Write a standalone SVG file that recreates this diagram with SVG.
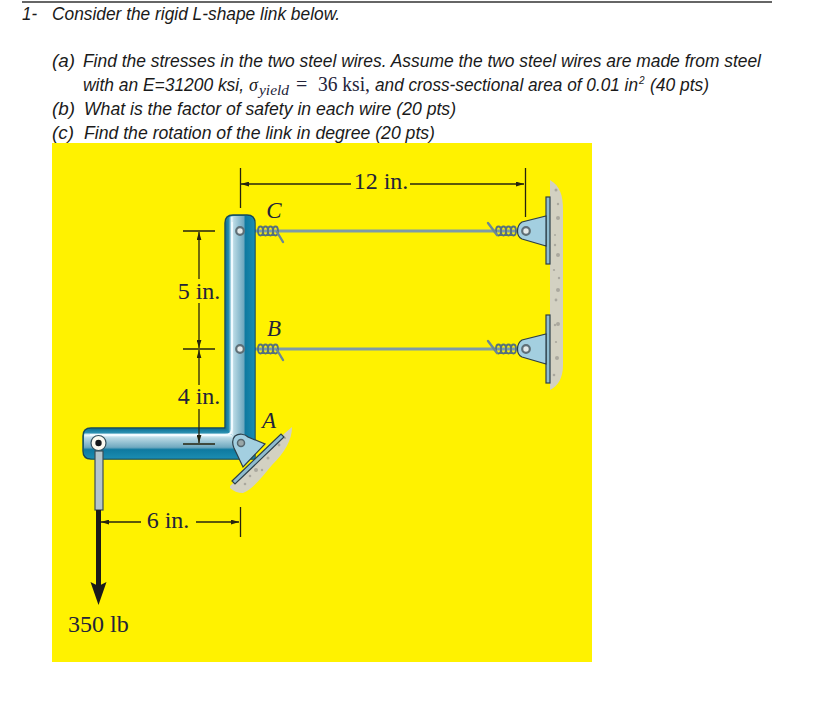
<svg xmlns="http://www.w3.org/2000/svg" width="815" height="716" viewBox="0 0 815 716">
<style>
.q{font-family:"Liberation Sans",Arial,sans-serif;font-style:italic;font-size:18px;fill:#1a1a1a}
.s{font-family:"Liberation Serif","Times New Roman",serif;fill:#23233a}
.dim{font-size:24px;text-anchor:middle}
.pt{font-size:23px;font-style:italic;text-anchor:middle}
.d{stroke:#26240f;stroke-width:1.3;fill:none}
.wire{stroke:#7f9ba6;stroke-width:3;fill:none}
.coil{fill:none;stroke:#55707c;stroke-width:1.800}
.tail{fill:none;stroke:#6b8794;stroke-width:2.400;stroke-linecap:round}
.gus{fill:#a3cfe0;stroke:#2c3e48;stroke-width:1.200}
.plate{fill:#8fbccf;stroke:#2c3e48;stroke-width:1.200}
.conc{fill:#d3d1c2}
.sp{fill:#aaa89e}
.pin{fill:#e4e9e8;stroke:#5f6f76;stroke-width:2.200}
</style>
<defs>
<marker id="ah" viewBox="0 0 10 6" refX="10" refY="3" markerWidth="8" markerHeight="5" markerUnits="userSpaceOnUse" orient="auto-start-reverse"><path d="M0 0L10 3L0 6Z" fill="#26240f"/></marker>
<linearGradient id="gv" x1="0" x2="1" y1="0" y2="0">
<stop offset="0" stop-color="#0f7396"/><stop offset=".1" stop-color="#2a8fb0"/><stop offset=".2" stop-color="#f2fbff"/><stop offset=".27" stop-color="#b9d9e4"/><stop offset=".62" stop-color="#6fa9c0"/><stop offset=".68" stop-color="#0f7aa0"/><stop offset="1" stop-color="#1b8cb1"/>
</linearGradient>
<linearGradient id="gh" x1="0" x2="0" y1="0" y2="1">
<stop offset="0" stop-color="#0f7396"/><stop offset=".12" stop-color="#2a8fb0"/><stop offset=".2" stop-color="#f2fbff"/><stop offset=".3" stop-color="#b9d9e4"/><stop offset=".62" stop-color="#6fa9c0"/><stop offset=".7" stop-color="#0f7aa0"/><stop offset="1" stop-color="#1b8cb1"/>
</linearGradient>
<path id="coils" class="coil" d="M22 0c0-6 5-6 5 0s-5 6-5 0M27 0c0-6 5-6 5 0s-5 6-5 0M32 0c0-6 5-6 5 0s-5 6-5 0M37 0c0-6 5-6 5 0s-5 6-5 0"/>
<g id="anchor">
<path class="gus" d="M546 -15V15L522 8C516 5 516 -5 522 -9Z"/>
<circle cx="526" cy="0" r="3.800" class="pin"/>
</g>
</defs>
<rect width="815" height="716" fill="#fff"/>
<rect x="22" y="1" width="750" height="2" fill="#666"/>
<rect x="52" y="143" width="540" height="519" fill="#fff200"/>
<g id="question">
<text class="q" x="22" y="20" textLength="15" lengthAdjust="spacingAndGlyphs">1-</text>
<text class="q" x="52" y="20" textLength="288" lengthAdjust="spacingAndGlyphs">Consider the rigid L-shape link below.</text>
<text class="q" x="52" y="67" textLength="23" lengthAdjust="spacingAndGlyphs">(a)</text>
<text class="q" x="83" y="67" textLength="678" lengthAdjust="spacingAndGlyphs">Find the stresses in the two steel wires. Assume the two steel wires are made from steel</text>
<text class="q" x="83" y="91" textLength="161" lengthAdjust="spacingAndGlyphs">with an E=31200 ksi,</text>
<text class="q" y="91"><tspan x="249" class="s" style="font-size:18px;fill:#1a1a1a">σ</tspan><tspan x="259" dy="4" class="s" style="font-size:14px" textLength="30" lengthAdjust="spacingAndGlyphs">yield</tspan></text>
<text class="s" x="296" y="91" font-size="20">=</text>
<text class="s" x="318" y="91" font-size="20" textLength="52" lengthAdjust="spacingAndGlyphs">36 ksi,</text>
<text class="q" y="91"><tspan x="375" textLength="263" lengthAdjust="spacingAndGlyphs">and cross-sectional area of 0.01 in</tspan><tspan x="639" dy="-7" style="font-size:10px">2</tspan><tspan x="650" dy="7" textLength="59" lengthAdjust="spacingAndGlyphs">(40 pts)</tspan></text>
<text class="q" x="52" y="115" textLength="23" lengthAdjust="spacingAndGlyphs">(b)</text>
<text class="q" x="84" y="115" textLength="372" lengthAdjust="spacingAndGlyphs">What is the factor of safety in each wire (20 pts)</text>
<text class="q" x="52" y="139" textLength="22" lengthAdjust="spacingAndGlyphs">(c)</text>
<text class="q" x="84" y="139" textLength="351" lengthAdjust="spacingAndGlyphs">Find the rotation of the link in degree (20 pts)</text>
</g>
<g id="wall-right">
<path class="conc" d="M550 180C560 186 563 195 563 210V365C563 378 558 386 550 390Z"/>
<g class="sp"><circle cx="556" cy="190" r="1.500"/><circle cx="558" cy="218" r="2"/><circle cx="555" cy="235" r="1"/><circle cx="555" cy="245" r="1.200"/><circle cx="558" cy="255" r="2"/><circle cx="554" cy="270" r="1.100"/><circle cx="559" cy="278" r="1.200"/><circle cx="556" cy="300" r="1.400"/><circle cx="558" cy="290" r="2"/><circle cx="555" cy="325" r="1.200"/><circle cx="558" cy="324" r="2"/><circle cx="556" cy="342" r="1.100"/><circle cx="557" cy="358" r="2"/><circle cx="554" cy="375" r="1.300"/><circle cx="558" cy="204" r="1.200"/></g>
<rect x="546" y="197" width="4" height="67" class="plate"/>
<rect x="546" y="315" width="4" height="68" class="plate"/>
</g>
<g id="connectors">
<path class="wire" d="M240 231H518"/>
<path class="wire" d="M240 349H518"/>
<use href="#coils" x="236" y="231"/>
<use href="#coils" x="236" y="349"/>
<path class="tail" d="M277 232L283 242"/>
<path class="tail" d="M277 350L283 360"/>
<use href="#coils" transform="translate(538 231) scale(-1 1)"/>
<use href="#coils" transform="translate(538 349) scale(-1 1)"/>
<path class="tail" d="M497 235L488 223"/>
<path class="tail" d="M497 353L488 341"/>
</g>
<g id="anchor-c"><use href="#anchor" y="231"/></g>
<g id="anchor-b"><use href="#anchor" y="349"/></g>
<g id="link">
<path d="M225 428V223Q225 215 233 215H247Q255 215 255 223V459H91Q83 459 83 451V436Q83 428 91 428Z" fill="#1b8cb1" stroke="#16485c" stroke-width="1.400"/>
<path d="M226 429V224Q226 216 234 216H246Q254.500 216 254.500 224V458.500Z" fill="url(#gv)"/>
<path d="M84 437Q84 429 92 429H226L254.500 458.500H92Q84 458.500 84 451Z" fill="url(#gh)"/>
<path d="M232 222V428Q232 435 225 435H90" fill="none" stroke="#f2fbff" stroke-width="1.800"/>
</g>
<g id="pin-c"><circle cx="240" cy="231" r="3.800" class="pin"/></g>
<g id="pin-b"><circle cx="240" cy="349" r="3.800" class="pin"/></g>
<g id="support-a">
<path d="M230 486L285 433L292 427C292 440 285 452 272 465C262 477 252 490 243 493C238 493 233 491 230 488Z" class="conc"/>
<g class="sp"><circle cx="256" cy="470" r="2"/><circle cx="268" cy="458" r="1.500"/><circle cx="245" cy="484" r="1.300"/><circle cx="279" cy="445" r="1.400"/><circle cx="262" cy="470" r="1.200"/><circle cx="272" cy="448" r="1.100"/><circle cx="250" cy="476" r="1.300"/><circle cx="285" cy="438" r="1.100"/></g>
<path class="plate" d="M232 481L281 434L284 437L235 484Z"/>
<path class="gus" d="M235 436C239 433 245 434 248 437L265 444L243 467L234 448C232 443 232 439 235 436Z"/>
<circle cx="241" cy="443" r="3.500" fill="#9aa7a8" stroke="#54666e" stroke-width="1.500"/>
</g>
<g id="rod">
<rect x="95" y="451" width="8" height="59" fill="#b4c5ca" stroke="#3b4d55" stroke-width="1.200"/>
<circle cx="98.500" cy="443" r="7.500" fill="#fbfaf0" stroke="#35505c" stroke-width="1.200"/>
<circle cx="98.500" cy="443" r="3.200" fill="#15181a"/>
<rect x="96" y="510" width="5" height="76" fill="#1a1a1a"/>
<path d="M90.500 582L98.500 586L106.500 582L98.500 605Z" fill="#1a1a1a"/>
</g>
<g id="dimensions">
<path class="d" d="M240.500 168V208M525.500 168V217"/>
<path class="d" d="M351 184H241" marker-end="url(#ah)"/>
<path class="d" d="M410 184H524" marker-end="url(#ah)"/>
<path class="d" d="M183 231H215M183 349H215M183 444H215M240.500 507V537"/>
<path class="d" d="M199 279V232" marker-end="url(#ah)"/>
<path class="d" d="M199 303V348" marker-end="url(#ah)"/>
<path class="d" d="M199 385V350" marker-end="url(#ah)"/>
<path class="d" d="M199 409V443" marker-end="url(#ah)"/>
<path class="d" d="M141 522H101" marker-end="url(#ah)"/>
<path class="d" d="M196 522H239" marker-end="url(#ah)"/>
<text class="s dim" x="381" y="189">12 in.</text>
<text class="s dim" x="199" y="299">5 in.</text>
<text class="s dim" x="199" y="404">4 in.</text>
<text class="s dim" x="168" y="528">6 in.</text>
</g>
<g id="labels">
<text class="s pt" x="274" y="218">C</text>
<text class="s pt" x="274" y="336">B</text>
<text class="s pt" x="269" y="428">A</text>
<text class="s" x="68" y="632" font-size="24">350 lb</text>
</g>
</svg>
